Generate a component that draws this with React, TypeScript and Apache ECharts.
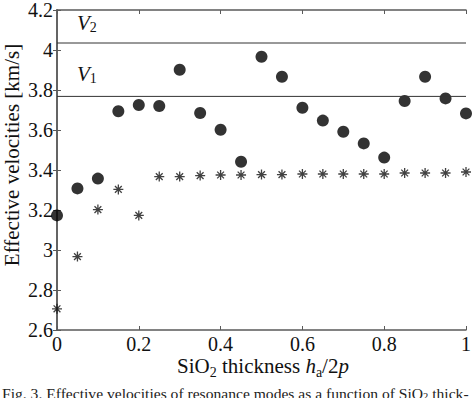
import React, { useEffect, useRef } from "react";
import * as echarts from "echarts";

const xValues = [0, 0.05, 0.1, 0.15, 0.2, 0.25, 0.3, 0.35, 0.4, 0.45, 0.5, 0.55, 0.6, 0.65, 0.7, 0.75, 0.8, 0.85, 0.9, 0.95, 1.0];
const circleValues = [3.173, 3.308, 3.357, 3.694, 3.725, 3.72, 3.901, 3.685, 3.601, 3.441, 3.966, 3.866, 3.711, 3.647, 3.591, 3.533, 3.462, 3.745, 3.866, 3.758, 3.683];
const starValues = [2.706, 2.967, 3.202, 3.303, 3.173, 3.367, 3.367, 3.372, 3.375, 3.375, 3.377, 3.377, 3.38, 3.38, 3.38, 3.38, 3.38, 3.385, 3.385, 3.385, 3.39];
const v1 = 3.768;
const v2 = 4.035;
const xTickRange = [0, 1, 0.2];
const yTickRange = [2.6, 4.2, 0.2];

const FONT = "'Liberation Serif', 'Times New Roman', serif";

export default function App() {
  const ref = useRef<HTMLDivElement>(null);
  useEffect(() => {
    const chart = echarts.init(ref.current!, null, { renderer: "svg" });
    const axisLine = { show: true, lineStyle: { color: "#5a5a5a", width: 1.5 } };
    const axisTick = { show: true, inside: true, length: 4, lineStyle: { color: "#5a5a5a", width: 1 } };
    const label = { fontFamily: FONT, fontSize: 20, color: "#111" };
    const starPath = "path://M5,0L5,10M0,5L10,5M1.6,1.6L8.4,8.4M1.6,8.4L8.4,1.6";
    chart.setOption({
      animation: false,
      backgroundColor: "#fff",
      grid: { left: 57, right: 5, top: 4, bottom: 68, containLabel: false },
      xAxis: [
        {
          type: "value", min: xTickRange[0], max: xTickRange[1], interval: xTickRange[2],
          axisLine, axisTick, splitLine: { show: false },
          axisLabel: { ...label, margin: 4, formatter: (v: number) => String(Math.round(v * 10) / 10) },
        },
        {
          type: "value", position: "top", min: xTickRange[0], max: xTickRange[1], interval: xTickRange[2],
          axisLine, axisTick, splitLine: { show: false }, axisLabel: { show: false },
        },
      ],
      yAxis: [
        {
          type: "value", min: yTickRange[0], max: yTickRange[1], interval: yTickRange[2],
          axisLine, axisTick, splitLine: { show: false },
          axisLabel: { ...label, margin: 4, formatter: (v: number) => String(Math.round(v * 10) / 10) },
        },
        {
          type: "value", position: "right", min: yTickRange[0], max: yTickRange[1], interval: yTickRange[2],
          axisLine, axisTick, splitLine: { show: false }, axisLabel: { show: false },
        },
      ],
      series: [
        {
          type: "line", data: [[xTickRange[0], v2], [xTickRange[1], v2]], symbol: "none",
          lineStyle: { color: "#333", width: 1 }, silent: true,
        },
        {
          type: "line", data: [[xTickRange[0], v1], [xTickRange[1], v1]], symbol: "none",
          lineStyle: { color: "#333", width: 1 }, silent: true,
        },
        {
          type: "scatter", data: xValues.map((x, i) => [x, circleValues[i]]),
          symbol: "circle", symbolSize: 12, itemStyle: { color: "#000" },
        },
        {
          type: "scatter", data: xValues.map((x, i) => [x, starValues[i]]),
          symbol: starPath, symbolSize: 10,
          itemStyle: { color: "#000", borderColor: "#111", borderWidth: 1.3 },
        },
      ],
      graphic: [
        {
          type: "text", left: 77, top: 12,
          style: {
            text: "{v|V}{s|2}",
            rich: {
              v: { fontFamily: FONT, fontStyle: "italic", fontSize: 21, fill: "#111" },
              s: { fontFamily: FONT, fontSize: 14, fill: "#111", verticalAlign: "bottom", padding: [10, 0, 0, 0] },
            },
          },
        },
        {
          type: "text", left: 77, top: 63,
          style: {
            text: "{v|V}{s|1}",
            rich: {
              v: { fontFamily: FONT, fontStyle: "italic", fontSize: 21, fill: "#111" },
              s: { fontFamily: FONT, fontSize: 14, fill: "#111", verticalAlign: "bottom", padding: [10, 0, 0, 0] },
            },
          },
        },
        {
          type: "text", x: 12, y: 155, rotation: Math.PI / 2,
          style: {
            text: "Effective velocities [km/s]",
            font: `21px ${FONT}`, fill: "#111", align: "center", verticalAlign: "middle",
          },
        },
        {
          type: "text", x: 263, y: 366,
          style: {
            text: "{t|SiO}{s|2}{t| thickness }{i|h}{s|a}{t|/2}{i|p}",
            align: "center", verticalAlign: "middle",
            rich: {
              t: { fontFamily: FONT, fontSize: 21, fill: "#111" },
              i: { fontFamily: FONT, fontSize: 21, fontStyle: "italic", fill: "#111" },
              s: { fontFamily: FONT, fontSize: 14, fill: "#111", padding: [12, 0, 0, 0] },
            },
          },
        },
        {
          type: "text", x: 2, y: 385,
          style: {
            text: "{t|Fig. 3. Effective velocities of resonance modes as a function of SiO}{s|2}{t| thick-}",
            align: "left", verticalAlign: "top",
            rich: {
              t: { fontFamily: FONT, fontSize: 15.6, fill: "#222" },
              s: { fontFamily: FONT, fontSize: 10.5, fill: "#222", padding: [6, 0, 0, 0] },
            },
          },
        },
      ],
    });
    return () => chart.dispose();
  }, []);
  return (
    <div
      ref={ref}
      style={{ position: "fixed", left: 0, top: 0, width: 474, height: 398, background: "#fff" }}
    />
  );
}
